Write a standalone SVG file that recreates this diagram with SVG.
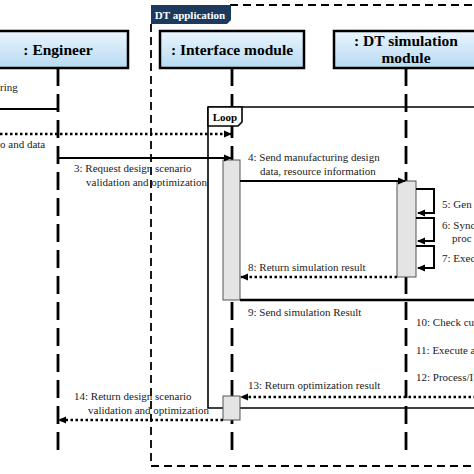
<svg xmlns="http://www.w3.org/2000/svg" width="474" height="474" viewBox="0 0 474 474">
<defs>
<linearGradient id="g" x1="0" y1="0" x2="0" y2="1"><stop offset="0" stop-color="#eaf5fd"/><stop offset="1" stop-color="#b7daf3"/></linearGradient>
<marker id="ah" markerWidth="8" markerHeight="8" refX="7" refY="4" orient="auto" markerUnits="userSpaceOnUse"><path d="M0,0.5 L8,4 L0,7.5 Z" fill="#000"/></marker>
</defs>
<style>
text{font-family:'Liberation Serif','Times New Roman','DejaVu Serif',serif}
.box{fill:url(#g);stroke:#000;stroke-width:2.5}
.t{font-weight:bold;font-size:15.5px;fill:#000;text-anchor:middle}
.lbl{font-size:11px;fill:#222}
.life{stroke:#000;stroke-width:2.8;stroke-dasharray:18 8;fill:none}
.frame{fill:none;stroke:#000;stroke-width:1.8;stroke-dasharray:8 5}
.act{fill:#e4e4e4;stroke:#555;stroke-width:1}
.sol{stroke:#000;stroke-width:2;fill:none}
.dot{stroke:#000;stroke-width:2.6;stroke-dasharray:2.5 2.5;fill:none}
</style>
<rect width="474" height="474" fill="#fff"/>
<g id="dt-application">
<path class="frame" d="M230,5 H476 M151,24 V466 H476"/>
<path d="M151,5 H231 V20 L227,24 H151 Z" fill="#1b3a5e"/>
<text x="190" y="19" font-weight="bold" font-size="11px" fill="#fff" text-anchor="middle">DT application</text>
</g>
<g id="lifelines">
<path class="life" d="M58,68 V458"/>
<path class="life" d="M232,68 V458"/>
<path class="life" d="M406,68 V458"/>
</g>
<g id="engineer">
<rect class="box" x="-20" y="31" width="148" height="37"/>
<text class="t" x="58" y="55">: Engineer</text>
<line x1="0" y1="109" x2="58" y2="109" stroke="#000" stroke-width="1.8"/>
<text class="lbl" x="0" y="91">ring</text>
</g>
<g id="interface-module">
<rect class="box" x="160" y="31" width="144" height="37"/>
<text class="t" x="232" y="55">: Interface module</text>
</g>
<g id="dt-simulation-module">
<rect class="box" x="334" y="31" width="150" height="37"/>
<text class="t" x="406" y="46">: DT simulation</text>
<text class="t" x="406" y="63">module</text>
</g>
<g id="loop">
<path d="M208,107 H476 M208,107 V408 H476" fill="none" stroke="#000" stroke-width="1.6"/>
<path d="M208,107 H242 V122 L238,126 H208 Z" fill="#fff" stroke="#000" stroke-width="1.6"/>
<text x="225" y="121" font-weight="bold" font-size="11px" text-anchor="middle">Loop</text>
</g>
<g id="activations">
<rect class="act" x="223" y="160" width="17" height="140"/>
<rect class="act" x="397" y="181" width="19" height="96"/>
<rect class="act" x="223" y="396" width="17" height="24"/>
</g>
<g id="connectors">
<line class="dot" x1="0" y1="134" x2="231" y2="134" marker-end="url(#ah)"/>
<line class="sol" x1="58" y1="158" x2="231" y2="158" marker-end="url(#ah)"/>
<line class="sol" x1="240" y1="181" x2="405" y2="181" marker-end="url(#ah)"/>
<path class="sol" d="M416,189 H434 V213 H418" marker-end="url(#ah)"/>
<path class="sol" d="M416,218 H434 V241 H418" marker-end="url(#ah)"/>
<path class="sol" d="M416,246 H434 V268 H418" marker-end="url(#ah)"/>
<line class="dot" x1="397" y1="277" x2="241" y2="277" marker-end="url(#ah)"/>
<line x1="240" y1="300" x2="476" y2="300" stroke="#000" stroke-width="2.4"/>
<line class="dot" x1="476" y1="397" x2="241" y2="397" marker-end="url(#ah)"/>
<line class="dot" x1="223" y1="420" x2="59" y2="420" marker-end="url(#ah)"/>
</g>
<g id="labels">
<text class="lbl" x="0" y="148">o and data</text>
<text class="lbl" x="74" y="172">3: Request design scenario</text>
<text class="lbl" x="86" y="186">validation and optimization</text>
<text class="lbl" x="248" y="161">4: Send manufacturing design</text>
<text class="lbl" x="260" y="175">data, resource information</text>
<text class="lbl" x="442" y="208">5: Gen</text>
<text class="lbl" x="442" y="229">6: Sync</text>
<text class="lbl" x="452" y="242">proc</text>
<text class="lbl" x="442" y="262">7: Exec</text>
<text class="lbl" x="248" y="271">8: Return simulation result</text>
<text class="lbl" x="248" y="316">9: Send simulation Result</text>
<text class="lbl" x="416" y="326">10: Check cu</text>
<text class="lbl" x="416" y="354">11: Execute a</text>
<text class="lbl" x="416" y="381">12: Process/I</text>
<text class="lbl" x="248" y="389">13: Return optimization result</text>
<text class="lbl" x="74" y="400">14: Return design scenario</text>
<text class="lbl" x="88" y="414">validation and optimization</text>
</g>
</svg>
